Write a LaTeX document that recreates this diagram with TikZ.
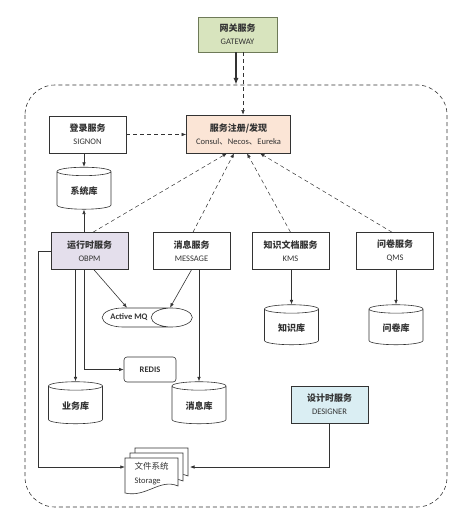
\documentclass[tikz,border=0pt]{standalone}
\usepackage{fontspec}
\setmainfont{Carlito}
\newfontfamily\cjk{Noto Sans CJK SC}
\usetikzlibrary{shapes.geometric,arrows.meta}
\definecolor{gwgreen}{RGB}{216,228,190}
\definecolor{gwborder}{RGB}{110,122,88}
\definecolor{regpeach}{RGB}{251,229,214}
\definecolor{rtlilac}{RGB}{228,223,236}
\definecolor{dsblue}{RGB}{218,238,243}
\newcommand{\hd}[1]{{\cjk\bfseries\fontsize{9}{13}\selectfont #1}}
\tikzset{
  svc/.style={draw, fill=white, minimum width=77pt, minimum height=37pt, align=center,
    inner sep=1pt, line width=0.6pt, font=\fontsize{8.5}{13}\selectfont},
  dbase/.style={cylinder, shape border rotate=90, aspect=0.25, draw, fill=white,
    minimum width=54pt, minimum height=42pt, line width=0.6pt,
    font=\cjk\bfseries\fontsize{9}{11}\selectfont},
  reglink/.style={dash pattern=on 4pt off 3pt, ->, line width=0.5pt},
  flow/.style={->, line width=0.6pt},
}

\begin{document}
\begin{tikzpicture}[x=1pt,y=-1pt,color=black!80,>={Latex[length=4.5pt,width=3.5pt]}]
    \useasboundingbox (0,0) rectangle (474,529);
    \draw[dash pattern=on 4pt off 3pt, line width=0.6pt, rounded corners=30pt] (25,85) rectangle (447,507);

    \node[svc, fill=gwgreen, draw=gwborder, minimum width=79pt, minimum height=35pt] (gw) at (237.5,34.5) {\hd{网关服务}\\ GATEWAY};
    \node[svc, fill=regpeach, minimum width=104pt, minimum height=38pt] (reg) at (238.5,134) {\hd{服务注册/发现}\\ Consul{\cjk 、}Necos{\cjk 、}Eureka};
    \node[svc] (sso) at (87.5,134.5) {\hd{登录服务}\\ SIGNON};
    \node[svc, fill=rtlilac] (obpm) at (89.5,251) {\hd{运行时服务}\\ OBPM};
    \node[svc] (msg) at (191.5,251) {\hd{消息服务}\\ MESSAGE};
    \node[svc] (kms) at (290.5,251) {\hd{知识文档服务}\\ KMS};
    \node[svc] (qms) at (395,251) {\hd{问卷服务}\\ QMS};
    \node[svc, fill=dsblue] (dsn) at (329.5,404.5) {\hd{设计时服务}\\ DESIGNER};

    \node[dbase] (sysdb) at (84,191.5) {系统库};
    \node[dbase, minimum height=40pt] (kdb) at (291.5,328) {知识库};
    \node[dbase, minimum height=40pt] (qdb) at (396,328) {问卷库};
    \node[dbase] (bizdb) at (75.5,406) {业务库};
    \node[dbase] (msgdb) at (199,406) {消息库};

    \node[cylinder, aspect=3, draw, fill=white, line width=0.6pt, minimum width=19pt, minimum height=87pt,
      font=\bfseries\fontsize{8.5}{10}\selectfont] (amq) at (129,317.5) {Active MQ};
    \node[draw, fill=white, rounded corners=3pt, line width=0.6pt, minimum width=52pt, minimum height=25pt,
      font=\bfseries\fontsize{8.5}{10}\selectfont] (redis) at (150,369.5) {REDIS};

    \foreach \d in {10,5,0}
        \draw[fill=white, line width=0.6pt, shift={(\d,-\d)}] (125,458) -- (178,458) -- (178,486)
            .. controls (160,478) and (146,498) .. (125,493) -- cycle;
    \node[minimum width=53pt, minimum height=32pt, inner sep=0pt, align=left,
      font=\fontsize{8.5}{14}\selectfont] (st) at (151.5,474) {{\cjk 文件系统}\\ Storage};

    \coordinate (cloudtop) at (236,85);
    \coordinate (stR) at (190,467);
    \draw[->, line width=1.4pt, >={Latex[length=7pt,width=5pt]}] ([xshift=-1.5pt]gw.south) -- (cloudtop);
    \draw[reglink] ([xshift=5.5pt]gw.south) -- ([xshift=4.5pt]reg.north);
    \draw[reglink] (sso.east) -- (sso.east -| reg.west);
    \foreach \s/\a/\b in {obpm/3.5/-11.5, msg/1.5/-4.5, kms/0/8.5, qms/-3/21.5}
        \draw[reglink] ([xshift=\a pt]\s.north) -- ([xshift=\b pt]reg.south);

    \draw[flow] (sso.south -| sysdb.north) -- (sysdb.north);
    \draw[flow] (obpm.north -| sysdb.south) -- (sysdb.south);
    \draw[flow] (kms.south -| kdb.north) -- (kdb.north);
    \draw[flow] (qms.south -| qdb.north) -- (qdb.north);
    \draw[flow] (obpm.south -| bizdb.north) -- (bizdb.north);
    \draw[flow] (msg.south -| msgdb.north) -- (msgdb.north);
    \draw[flow] ([xshift=4.5pt]obpm.south) -- ([xshift=-2pt]amq.north);
    \draw[flow] (msg.south) -- ([xshift=41pt]amq.north);
    \draw[flow] ([xshift=-5.5pt]obpm.south) |- (redis.west);
    \draw[flow] (obpm.west) -- ++(-12,0) |- ([yshift=7pt]st.west);
    \draw[flow] (dsn.south) |- (stR);
\end{tikzpicture}
\end{document}
